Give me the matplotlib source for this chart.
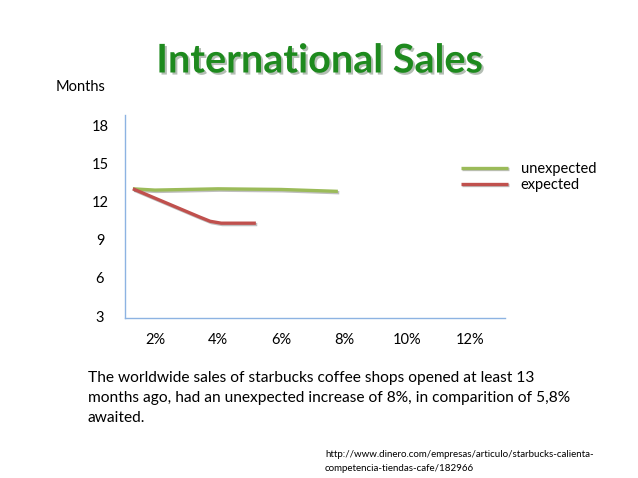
import matplotlib
matplotlib.use("Agg")
import matplotlib.pyplot as plt
import matplotlib.patheffects as pe

# Data
unexp_x = [1.3, 2.0, 4.0, 6.0, 7.8]
unexp_y = [13.0, 12.9, 13.0, 12.95, 12.8]
exp_x = [1.3, 3.4, 3.75, 4.1, 5.2]
exp_y = [13.0, 10.8, 10.45, 10.3, 10.3]
xticks = [2, 4, 6, 8, 10, 12]
xtick_labels = ["2%", "4%", "6%", "8%", "10%", "12%"]
yticks = [3, 6, 9, 12, 15, 18]
series_names = ["unexpected", "expected"]

FONT = "Lato"
plt.rcParams['font.family'] = [FONT, 'DejaVu Sans']

fig = plt.figure(figsize=(6.38, 4.78), dpi=100)
ax = fig.add_axes([125/638, 1-318/478, 380/638, 203/478])

shadow = [pe.SimpleLineShadow(offset=(1, -1), alpha=0.25), pe.Normal()]
l1, = ax.plot(unexp_x, unexp_y, color="#9bbb59", lw=2.4, solid_capstyle='butt',
              solid_joinstyle='round', path_effects=shadow)
l2, = ax.plot(exp_x, exp_y, color="#c0504d", lw=2.4, solid_capstyle='butt',
              solid_joinstyle='round', path_effects=shadow)

ax.set_xlim(1.05, 13.1)
ax.set_ylim(2.85, 18.8)
ax.set_xticks(xticks)
ax.set_xticklabels(xtick_labels)
ax.set_yticks(yticks)
ax.tick_params(axis='both', length=0, labelsize=10.5, colors="#000000")
ax.tick_params(axis='x', pad=11)
for t in ax.get_yticklabels():
    t.set_horizontalalignment('center')
ax.tick_params(axis='y', pad=18)
for s in ["top", "right"]:
    ax.spines[s].set_visible(False)
for s in ["left", "bottom"]:
    ax.spines[s].set_color("#8db3e2")
    ax.spines[s].set_linewidth(1.0)

leg = fig.legend([l1, l2], series_names, loc="upper left",
                 bbox_to_anchor=(455/638, 1-156/478), frameon=False,
                 fontsize=10.5, handlelength=3.2, labelspacing=0.15,
                 handletextpad=0.9, borderaxespad=0)

fig.text(56/638, 1-87/478, "Months", fontsize=10.5, va='center', ha='left')

title = fig.text(320/638, 1-61/478, "International Sales", fontsize=28.5, fontweight='bold',
                 color="#1e8a1e", ha='center', va='center')
title.set_path_effects([pe.withSimplePatchShadow(offset=(1.5, -1.5), alpha=0.3)])

body = ("The worldwide sales of starbucks coffee shops opened at least 13\n"
        "months ago, had an unexpected increase of 8%, in comparition of 5,8%\n"
        "awaited.")
fig.text(88/638, 1-371/478, body, fontsize=11.2, va='top', ha='left', linespacing=1.55)

src = ("http://www.dinero.com/empresas/articulo/starbucks-calienta-\n"
       "competencia-tiendas-cafe/182966")
fig.text(325/638, 1-450/478, src, fontsize=7.0, va='top', ha='left', linespacing=1.65)

fig.savefig("out.png", dpi=100)
